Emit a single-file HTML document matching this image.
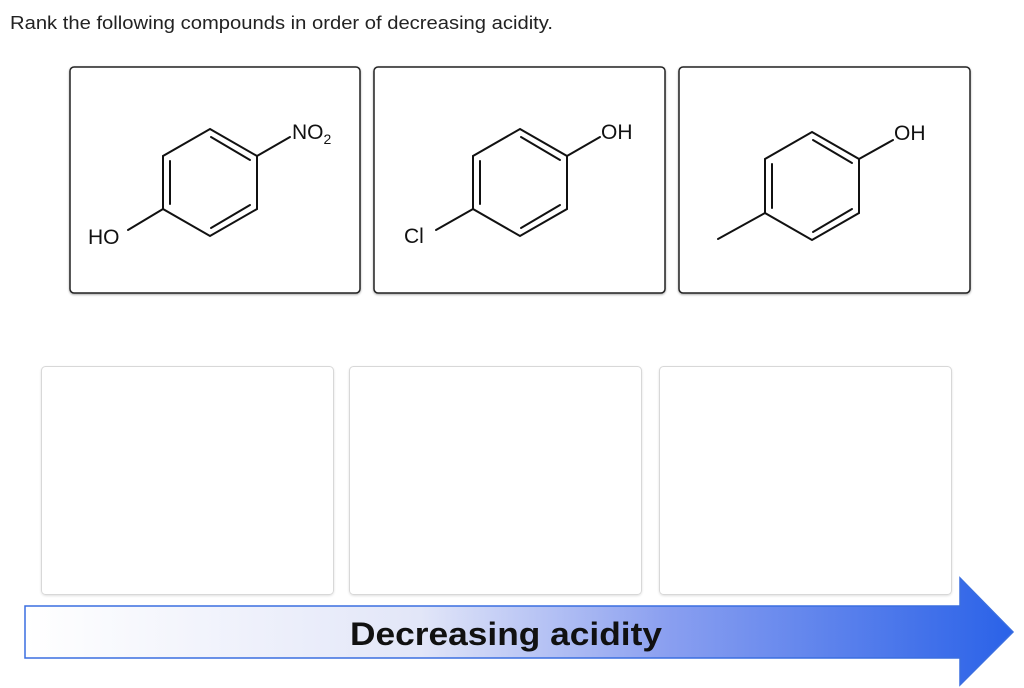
<!DOCTYPE html>
<html><head><style>
body{margin:0;width:1024px;height:688px;background:#fff;overflow:hidden;font-family:"Liberation Sans",Arial,sans-serif}
</style></head><body>
<svg width="1024" height="688" xmlns="http://www.w3.org/2000/svg" style="position:absolute;left:0;top:0">
<defs>
<linearGradient id="g" x1="0" x2="1" y1="0" y2="0">
<stop offset="0" stop-color="#ffffff"/>
<stop offset="0.4" stop-color="#e2e6f8"/>
<stop offset="0.65" stop-color="#8a9ff0"/>
<stop offset="1" stop-color="#2a62e8"/>
</linearGradient>
<filter id="sh" x="-5%" y="-5%" width="110%" height="110%"><feDropShadow dx="0" dy="1" stdDeviation="1" flood-color="#000" flood-opacity="0.35"/></filter>
<filter id="sh2" x="-5%" y="-5%" width="110%" height="110%"><feDropShadow dx="0" dy="1" stdDeviation="1" flood-color="#000" flood-opacity="0.12"/></filter>
</defs>
<text x="10" y="29" font-size="18" fill="#222" font-family="Liberation Sans, sans-serif" textLength="543" lengthAdjust="spacingAndGlyphs">Rank the following compounds in order of decreasing acidity.</text>
<g fill="#fff" stroke="#222" stroke-width="1.5" filter="url(#sh)">
<rect x="70" y="67" width="290" height="226" rx="4"/>
<rect x="374" y="67" width="291" height="226" rx="4"/>
<rect x="679" y="67" width="291" height="226" rx="4"/>
</g>
<g fill="#fff" stroke="#d8d8d8" stroke-width="1" filter="url(#sh2)">
<rect x="41.5" y="366.5" width="292" height="228" rx="4"/>
<rect x="349.5" y="366.5" width="292" height="228" rx="4"/>
<rect x="659.5" y="366.5" width="292" height="228" rx="4"/>
</g>
<g stroke="#111" stroke-width="2" fill="none" stroke-linecap="round">
<polygon points="210,129 257,156 257,209 210,236 163,209 163,156"/>
<line x1="170" y1="161" x2="170" y2="204"/>
<line x1="211" y1="137" x2="250" y2="160"/>
<line x1="250" y1="205" x2="211" y2="228"/>
<line x1="257" y1="156" x2="290" y2="137"/>
<line x1="163" y1="209" x2="128" y2="230"/>
<polygon points="520,129 567,156 567,209 520,236 473,209 473,156"/>
<line x1="480" y1="161" x2="480" y2="204"/>
<line x1="521" y1="137" x2="560" y2="160"/>
<line x1="560" y1="205" x2="521" y2="228"/>
<line x1="567" y1="156" x2="600" y2="137"/>
<line x1="473" y1="209" x2="436" y2="230"/>
<polygon points="812,132 859,159 859,213 812,240 765,213 765,159"/>
<line x1="772" y1="164" x2="772" y2="208"/>
<line x1="813" y1="140" x2="852" y2="163"/>
<line x1="852" y1="209" x2="813" y2="232"/>
<line x1="859" y1="159" x2="893" y2="140"/>
<line x1="765" y1="213" x2="718" y2="239"/>
</g>
<g font-size="21" fill="#111" font-family="Liberation Sans, sans-serif">
<text x="292" y="139">NO<tspan font-size="14" dy="5">2</tspan></text>
<text x="88" y="244">HO</text>
<text x="601" y="139">OH</text>
<text x="404" y="243">Cl</text>
<text x="894" y="140">OH</text>
</g>
<path d="M25,606 L960,606 L960,578 L1013,632 L960,685 L960,658 L25,658 Z" fill="url(#g)" stroke="#3a6ee0" stroke-width="1.5"/>
<text x="506" y="645" text-anchor="middle" font-size="32" font-weight="bold" fill="#111" font-family="Liberation Sans, sans-serif" textLength="312" lengthAdjust="spacingAndGlyphs">Decreasing acidity</text>
</svg>
</body></html>
